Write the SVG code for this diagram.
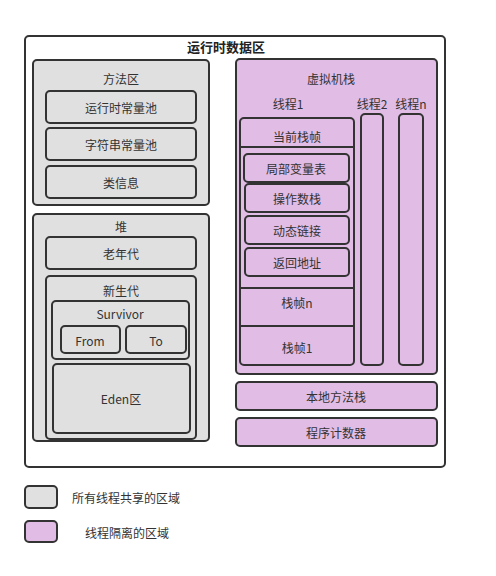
<svg xmlns="http://www.w3.org/2000/svg" width="496" height="576" viewBox="0 0 496 576">
<style>
rect{stroke:#333;stroke-width:2}
.w{fill:#fff}
.g{fill:#e0e0e0}
.p{fill:#e1bde6}
text{font-family:"Noto Sans CJK SC","Noto Sans",sans-serif;font-size:12px;fill:#333;text-anchor:middle;dominant-baseline:central}
.l{text-anchor:start}
.t{font-size:13px;font-weight:bold;fill:#222}
line{stroke:#333;stroke-width:2}
</style>
<rect x="0" y="0" width="496" height="576" style="fill:#fff;stroke:none"/>
<g id="runtime">
<rect class="w" x="25" y="36" width="420" height="431" rx="4"/>
<text class="t" x="226" y="46">运行时数据区</text>
</g>
<g id="method-area">
<rect class="g" x="33" y="60" width="176" height="145" rx="4"/>
<text x="121" y="78">方法区</text>
</g>
<g id="runtime-const-pool">
<rect class="g" x="46" y="91" width="150" height="32" rx="4"/>
<text x="121" y="107">运行时常量池</text>
</g>
<g id="string-pool">
<rect class="g" x="46" y="128" width="150" height="32" rx="4"/>
<text x="121" y="144">字符串常量池</text>
</g>
<g id="class-info">
<rect class="g" x="46" y="166" width="150" height="32" rx="4"/>
<text x="121" y="182">类信息</text>
</g>
<g id="heap">
<rect class="g" x="33" y="214" width="176" height="227" rx="4"/>
<text x="121" y="226">堆</text>
</g>
<g id="old-gen">
<rect class="g" x="46" y="237" width="150" height="32" rx="4"/>
<text x="121" y="253">老年代</text>
</g>
<g id="young-gen">
<rect class="g" x="46" y="276" width="150" height="163" rx="4"/>
<text x="121" y="290">新生代</text>
</g>
<g id="survivor">
<rect class="g" x="52" y="301" width="137" height="58" rx="4"/>
<text x="120" y="313">Survivor</text>
</g>
<g id="from">
<rect class="g" x="61" y="326" width="59" height="27" rx="4"/>
<text x="90" y="340">From</text>
</g>
<g id="to">
<rect class="g" x="126" y="326" width="60" height="27" rx="4"/>
<text x="156" y="340">To</text>
</g>
<g id="eden">
<rect class="g" x="53" y="364" width="137" height="69" rx="4"/>
<text x="121" y="398">Eden区</text>
</g>
<g id="vm-stack">
<rect class="p" x="236" y="59" width="201" height="315" rx="4"/>
<text x="331" y="78">虚拟机栈</text>
<text x="288" y="103">线程1</text>
<text x="372" y="103">线程2</text>
<text x="411" y="103">线程n</text>
</g>
<g id="thread1">
<rect class="p" x="240" y="118" width="114" height="247" rx="4"/>
<text x="297" y="136">当前栈帧</text>
<line x1="240" y1="147" x2="354" y2="147"/>
<line x1="240" y1="288" x2="354" y2="288"/>
<text x="297" y="302">栈帧n</text>
<line x1="240" y1="326" x2="354" y2="326"/>
<text x="297" y="347">栈帧1</text>
</g>
<g id="local-vars">
<rect class="p" x="244" y="154" width="105" height="28" rx="4"/>
<text x="296" y="168">局部变量表</text>
</g>
<g id="operand-stack">
<rect class="p" x="245" y="184" width="104" height="28" rx="4"/>
<text x="297" y="198">操作数栈</text>
</g>
<g id="dynamic-link">
<rect class="p" x="245" y="216" width="104" height="28" rx="4"/>
<text x="297" y="230">动态链接</text>
</g>
<g id="return-addr">
<rect class="p" x="245" y="248" width="104" height="28" rx="4"/>
<text x="297" y="262">返回地址</text>
</g>
<g id="thread2">
<rect class="p" x="361" y="114" width="22" height="251" rx="4"/>
</g>
<g id="threadn">
<rect class="p" x="399" y="114" width="24" height="251" rx="4"/>
</g>
<g id="native-stack">
<rect class="p" x="236" y="382" width="201" height="28" rx="4"/>
<text x="336" y="396">本地方法栈</text>
</g>
<g id="pc">
<rect class="p" x="236" y="418" width="201" height="28" rx="4"/>
<text x="336" y="432">程序计数器</text>
</g>
<g id="legend-shared">
<rect class="g" x="25" y="486" width="32" height="22" rx="4"/>
<text class="l" x="72" y="497">所有线程共享的区域</text>
</g>
<g id="legend-isolated">
<rect class="p" x="25" y="521" width="32" height="21" rx="4"/>
<text class="l" x="85" y="532">线程隔离的区域</text>
</g>
<g id="connectors"></g>
</svg>
